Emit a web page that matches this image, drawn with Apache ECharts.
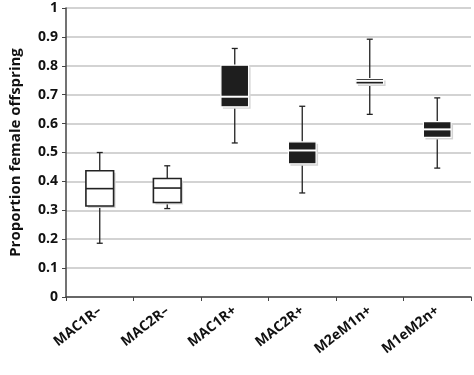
<!DOCTYPE html>
<html><head><meta charset="utf-8">
<script src="https://cdn.jsdelivr.net/npm/echarts@6/dist/echarts.min.js"></script>
<style>html,body{margin:0;padding:0;background:#fff}#c{width:474px;height:375px}</style>
</head><body><div id="c"></div>
<script>
var categories = ['MAC1R\u2013','MAC2R\u2013','MAC1R+','MAC2R+','M2eM1n+','M1eM2n+'];
var whiskerLow  = [0.186, 0.306, 0.533, 0.360, 0.632, 0.446];
var q1          = [0.315, 0.327, 0.658, 0.461, 0.737, 0.552];
var median      = [0.375, 0.377, 0.693, 0.507, 0.748, 0.580];
var q3          = [0.437, 0.410, 0.802, 0.537, 0.756, 0.607];
var whiskerHigh = [0.500, 0.454, 0.860, 0.660, 0.892, 0.689];
var filled      = [false, false, true, true, true, true];
var yTicks = ['0','0.1','0.2','0.3','0.4','0.5','0.6','0.7','0.8','0.9','1'];

var data = categories.map(function(c,i){return [i, whiskerLow[i], q1[i], median[i], q3[i], whiskerHigh[i], filled[i]?1:0];});

var chart = echarts.init(document.getElementById('c'));
chart.setOption({
  animation:false,
  grid:{left:63, right:3, top:8, bottom:78},
  xAxis:{type:'category', data:categories,
    axisLine:{lineStyle:{color:'#444', width:1.5}},
    axisTick:{show:true, alignWithLabel:false, length:4, lineStyle:{color:'#444'}},
    axisLabel:{rotate:38, fontFamily:'Open Sans', fontWeight:'bold', fontSize:14, color:'#111', margin:12}
  },
  yAxis:{type:'value', min:0, max:1, interval:0.1,
    axisLine:{show:true, lineStyle:{color:'#444', width:1.5}},
    axisTick:{show:true, length:4, lineStyle:{color:'#444'}},
    splitLine:{lineStyle:{color:'#c4c4c4', width:1.5}},
    axisLabel:{fontFamily:'Open Sans', fontWeight:'bold', fontSize:14, color:'#111', margin:8,
      formatter:function(v){return yTicks[Math.round(v*10)];}},
    name:'Proportion female offspring', nameLocation:'middle', nameGap:43,
    nameTextStyle:{fontFamily:'Open Sans', fontWeight:'bold', fontSize:15, color:'#111'}
  },
  series:[{
    type:'custom',
    data:data,
    encode:{x:0, y:[1,2,3,4,5]},
    renderItem:function(params, api){
      var i = api.value(0);
      var pLow = api.coord([i, api.value(1)]);
      var pQ1 = api.coord([i, api.value(2)]);
      var pMed = api.coord([i, api.value(3)]);
      var pQ3 = api.coord([i, api.value(4)]);
      var pHigh = api.coord([i, api.value(5)]);
      var fill = api.value(6) === 1;
      var band = api.size([1,0])[0];
      var w = band*0.41;
      var x = pMed[0];
      var cap = 3;
      var children = [];
      children.push({type:'line', shape:{x1:x,y1:pLow[1],x2:x,y2:pHigh[1]}, style:{stroke:'#222', lineWidth:1.3}});
      children.push({type:'line', shape:{x1:x-cap,y1:pLow[1],x2:x+cap,y2:pLow[1]}, style:{stroke:'#222', lineWidth:1.3}});
      children.push({type:'line', shape:{x1:x-cap,y1:pHigh[1],x2:x+cap,y2:pHigh[1]}, style:{stroke:'#222', lineWidth:1.3}});
      children.push({type:'rect', shape:{x:x-w/2+2, y:pQ3[1]+2, width:w, height:pQ1[1]-pQ3[1]}, style:{fill:'#d4d4d4', stroke:null}});
      if (fill) {
        children.push({type:'rect', shape:{x:x-w/2, y:pQ3[1], width:w, height:pQ1[1]-pQ3[1]}, style:{fill:'#1e1e1e', stroke:'#ffffff', lineWidth:1.2}});
        children.push({type:'line', shape:{x1:x-w/2,y1:pMed[1],x2:x+w/2,y2:pMed[1]}, style:{stroke:'#ffffff', lineWidth:2}});
      } else {
        children.push({type:'rect', shape:{x:x-w/2, y:pQ3[1], width:w, height:pQ1[1]-pQ3[1]}, style:{fill:'#ffffff', stroke:'#222', lineWidth:1.6}});
        children.push({type:'line', shape:{x1:x-w/2,y1:pMed[1],x2:x+w/2,y2:pMed[1]}, style:{stroke:'#222', lineWidth:1.6}});
      }
      return {type:'group', children:children};
    }
  }]
});
</script></body></html>
